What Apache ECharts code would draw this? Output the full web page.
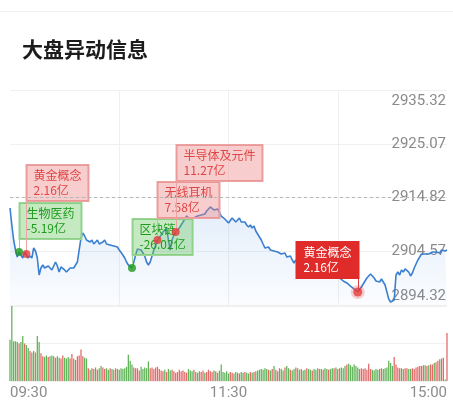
<!DOCTYPE html>
<html>
<head>
<meta charset="utf-8">
<title>大盘异动信息</title>
<script src="https://cdn.jsdelivr.net/npm/echarts@6/dist/echarts.min.js"></script>
<style>
  html, body { margin: 0; padding: 0; background: #fff; }
  #chart { width: 453px; height: 416px; }
</style>
</head>
<body>
<div id="chart"></div>
<script>
// 昨收
var PREV_CLOSE = 2914.82
var STEP = 10.25

// 每分钟价格 09:30-11:30, 13:01-15:00
var prices = [
  2912.82, 2909.58, 2906.72, 2904.81, 2903.47, 2904.43, 2904.24, 2903.28, 2904.43, 2904.05,
  2903.28, 2903.67, 2903.28, 2905.19, 2904.62, 2903.28, 2900.04, 2901.38, 2901.95, 2901.38,
  2901.00, 2901.76, 2901.38, 2901.00, 2901.76, 2902.52, 2901.76, 2900.61, 2901.57, 2901.95,
  2901.00, 2900.61, 2900.23, 2901.38, 2901.76, 2901.38, 2901.76, 2902.52, 2904.81, 2907.10,
  2908.05, 2907.48, 2906.72, 2907.10, 2906.33, 2906.72, 2905.95, 2906.33, 2906.72, 2905.95,
  2905.57, 2906.33, 2906.72, 2905.95, 2905.57, 2905.76, 2905.38, 2905.57, 2905.19, 2905.38,
  2904.81, 2904.43, 2903.86, 2903.28, 2902.52, 2901.95, 2901.57, 2901.38, 2902.52, 2903.86,
  2905.00, 2905.19, 2904.81, 2904.43, 2903.67, 2902.52, 2901.95, 2902.52, 2903.67, 2904.81,
  2905.76, 2906.72, 2907.10, 2907.67, 2908.24, 2907.86, 2909.00, 2906.72, 2904.81, 2906.72,
  2907.67, 2908.24, 2908.43, 2909.00, 2909.58, 2910.15, 2910.72, 2911.29, 2911.10, 2910.72,
  2910.53, 2910.91, 2910.72, 2911.29, 2910.91, 2911.48, 2911.86, 2911.67, 2912.25, 2912.44,
  2913.01, 2913.39, 2912.44, 2912.82, 2912.63, 2912.05, 2911.29, 2911.10, 2910.72, 2910.34,
  2909.96,
  2910.34, 2910.91, 2910.72, 2910.15, 2910.53, 2910.91, 2910.15, 2909.77, 2910.15, 2909.58,
  2909.19, 2909.58, 2909.00, 2909.39, 2908.43, 2907.86, 2907.29, 2906.72, 2905.95, 2905.19,
  2905.00, 2905.38, 2904.81, 2905.19, 2904.62, 2905.00, 2904.43, 2904.81, 2904.05, 2903.67,
  2904.24, 2903.47, 2903.28, 2903.67, 2902.90, 2902.33, 2902.90, 2902.52, 2902.14, 2902.52,
  2901.95, 2901.57, 2902.14, 2901.76, 2901.38, 2901.76, 2901.19, 2901.00, 2901.38, 2900.80,
  2900.61, 2901.00, 2900.42, 2900.23, 2900.61, 2900.04, 2899.85, 2900.23, 2899.66, 2899.85,
  2899.47, 2899.09, 2898.90, 2898.52, 2898.52, 2898.14, 2897.94, 2897.75, 2897.37, 2897.18,
  2896.80, 2897.18, 2897.75, 2898.33, 2898.90, 2899.47, 2899.85, 2900.23, 2900.04, 2899.47,
  2898.90, 2898.52, 2898.71, 2899.28, 2898.90, 2898.14, 2896.80, 2895.47, 2894.89, 2894.70,
  2895.28, 2900.04, 2900.61, 2900.04, 2901.00, 2900.61, 2901.19, 2901.38, 2900.61, 2899.85,
  2900.42, 2901.38, 2902.14, 2902.90, 2903.47, 2904.05, 2904.24, 2904.05, 2904.43, 2904.05,
  2904.24, 2904.43, 2904.05, 2904.43, 2904.62, 2904.24, 2904.81, 2905.00, 2904.62, 2904.81
]

// 每分钟成交量 (相对值)
var volumes = [
  55, 100, 53, 53, 52, 50, 52, 60, 50, 48,
  44, 40, 38, 40, 38, 60, 52, 37, 33, 32,
  34, 32, 33, 34, 33, 31, 33, 31, 30, 34,
  31, 30, 32, 30, 36, 30, 28, 33, 34, 42,
  33, 31, 30, 17, 15, 17, 16, 18, 15, 17,
  20, 18, 16, 17, 15, 17, 16, 15, 17, 16,
  15, 17, 16, 17, 19, 35, 27, 22, 18, 17,
  17, 14, 19, 16, 18, 17, 26, 17, 18, 16,
  18, 19, 16, 14, 13, 15, 12, 16, 14, 15,
  13, 11, 12, 15, 13, 14, 12, 11, 16, 14,
  13, 15, 12, 11, 13, 12, 14, 11, 12, 15,
  13, 12, 14, 13, 11, 14, 22, 12, 11, 13,
  10,
  12, 11, 10, 12, 11, 10, 12, 11, 12, 11,
  10, 12, 11, 12, 13, 14, 15, 16, 15, 17,
  16, 15, 14, 16, 20, 15, 13, 17, 16, 14,
  18, 20, 17, 15, 14, 16, 18, 17, 15, 16,
  14, 15, 17, 16, 15, 14, 16, 15, 17, 16,
  16, 15, 17, 16, 15, 16, 17, 17, 18, 16,
  17, 18, 17, 20, 22, 23, 21, 19, 22, 20,
  18, 16, 17, 16, 17, 15, 23, 16, 15, 14,
  16, 15, 16, 17, 16, 17, 18, 27, 24, 20,
  32, 22, 18, 17, 17, 16, 17, 17, 16, 16,
  17, 16, 18, 19, 20, 20, 21, 21, 20, 21,
  22, 22, 24, 25, 27, 29, 30, 31, 2, 64
]

// 异动事件
var eventTimes = ['09:35', '09:39', '10:37', '10:51', '11:01', '14:11']
var eventNames = ['生物医药', '黄金概念', '区块链', '无线耳机', '半导体及元件', '黄金概念']
var eventAmounts = ['-5.19亿', '2.16亿', '-26.02亿', '7.58亿', '11.27亿', '2.16亿']
var ACTIVE_EVENT = 5

// 标签框离点的高度(px), 只是样式
var EVENT_LIFT = [49, 89, 49, 58, 87, 14]

var times = []
function hhmm(m) {
  var h = Math.floor(m / 60)
  var mm = m % 60
  return (h < 10 ? '0' : '') + h + ':' + (mm < 10 ? '0' : '') + mm
}
for (var m = 0; m <= 120; m++) times.push(hhmm(9 * 60 + 30 + m))
for (var m = 1; m <= 120; m++) times.push(hhmm(13 * 60 + m))

var RED = '#e36a6a'
var GREEN = '#62b35a'
var BOX_FONT = '12px "Noto Sans CJK SC"'
var BOX_PAD = [3, 7, 3, 7]

var lineData = prices.map(function (p) { return +(p - PREV_CLOSE).toFixed(2) })
var volData = volumes.map(function (v, i) {
  var prev = i === 0 ? PREV_CLOSE : prices[i - 1]
  return {
    value: v,
    itemStyle: { color: prices[i] >= prev ? RED : GREEN }
  }
})
var eventData = eventTimes.map(function (t) {
  var idx = times.indexOf(t)
  return [idx, lineData[idx]]
})
var dotData = eventData.map(function (d, k) {
  var up = eventAmounts[k].charAt(0) !== '-'
  var item = { value: d, itemStyle: { color: up ? '#e63b3b' : '#1f9a1f' } }
  if (k === ACTIVE_EVENT) {
    item.symbolSize = 9
    item.itemStyle.borderColor = 'rgba(230,60,60,0.3)'
    item.itemStyle.borderWidth = 5
  }
  return item
})

var measureCtx = document.createElement('canvas').getContext('2d')
function boxWidth(lines) {
  measureCtx.font = BOX_FONT
  var w = 0
  lines.forEach(function (s) { w = Math.max(w, measureCtx.measureText(s).width) })
  return w + BOX_PAD[1] + BOX_PAD[3]
}

function renderEvent(params, api) {
  var k = params.dataIndex
  var p = api.coord([api.value(0), api.value(1)])
  var x = Math.round(p[0]) + 0.5
  var up = eventAmounts[k].charAt(0) !== '-'
  var active = k === ACTIVE_EVENT
  var edge = up ? '#eba3a3' : '#9cd596'
  var y = p[1] - EVENT_LIFT[k]
  var style = {
    text: eventNames[k] + '\n' + eventAmounts[k],
    font: BOX_FONT,
    lineHeight: 15,
    padding: BOX_PAD,
    fill: up ? '#e04545' : '#1f9a1f',
    backgroundColor: up ? 'rgba(238,130,130,0.4)' : 'rgba(110,200,100,0.4)',
    borderColor: edge,
    borderWidth: 1,
    align: 'left',
    verticalAlign: 'top'
  }
  var tx = x
  if (active) {
    // 当前选中的异动: 实心红框, 放在点的左上方
    style.fill = '#fff'
    style.backgroundColor = '#e02b2b'
    style.borderColor = '#e02b2b'
    style.verticalAlign = 'bottom'
    edge = '#e04040'
    tx = x - boxWidth([eventNames[k], eventAmounts[k]])
  }
  return {
    type: 'group',
    children: [
      {
        type: 'line',
        shape: { x1: x, y1: p[1], x2: x, y2: y },
        style: { stroke: edge, lineWidth: 1 }
      },
      {
        type: 'text',
        x: tx,
        y: y,
        style: style
      }
    ]
  }
}

var chart = echarts.init(document.getElementById('chart'))
chart.setOption({
  animation: false,
  title: {
    text: '大盘异动信息',
    left: 17,
    top: 34,
    textStyle: {
      fontSize: 21,
      fontWeight: 'bold',
      color: '#1c1c1c',
      fontFamily: 'Noto Sans CJK SC'
    }
  },
  graphic: [
    {
      type: 'line',
      shape: { x1: 0, y1: 11.5, x2: 453, y2: 11.5 },
      style: { stroke: '#f1f1f1', lineWidth: 1 }
    }
  ],
  grid: [
    { left: 10, right: 6, top: 90, height: 215 },
    { left: 10, right: 6, top: 306, height: 75 }
  ],
  xAxis: [
    {
      type: 'category',
      gridIndex: 0,
      data: times,
      boundaryGap: false,
      axisLine: { show: false },
      axisTick: { show: false },
      axisLabel: { show: false },
      splitLine: {
        show: true,
        interval: function (i) { return i === 60 || i === 120 || i === 180 },
        lineStyle: { color: '#f0f0f0' }
      }
    },
    {
      type: 'category',
      gridIndex: 1,
      data: times,
      boundaryGap: false,
      axisLine: { show: false },
      axisTick: { show: false },
      splitLine: { show: false },
      axisLabel: {
        interval: function (i) { return i === 0 || i === 120 || i === 240 },
        alignMinLabel: 'left',
        alignMaxLabel: 'right',
        color: '#8c8c8c',
        fontSize: 15,
        fontFamily: 'Roboto',
        margin: 5
      }
    }
  ],
  yAxis: [
    {
      type: 'value',
      gridIndex: 0,
      position: 'right',
      min: -2 * STEP,
      max: 2 * STEP,
      interval: STEP,
      axisLine: { show: false },
      axisTick: { show: false },
      splitLine: { lineStyle: { color: '#f0f0f0' } },
      axisLabel: {
        inside: true,
        margin: 1,
        formatter: function (v) {
          var s = (PREV_CLOSE + v).toFixed(2)
          if (Math.abs(v - 2 * STEP) < 1e-6) return '{top|' + s + '}'
          if (Math.abs(v + 2 * STEP) < 1e-6) return '{bot|' + s + '}'
          return '{mid|' + s + '}'
        },
        rich: {
          top: { color: '#8a8a8a', fontSize: 15, fontFamily: 'Roboto', padding: [22, 0, 0, 0] },
          mid: { color: '#8a8a8a', fontSize: 15, fontFamily: 'Roboto' },
          bot: { color: '#8a8a8a', fontSize: 15, fontFamily: 'Roboto', padding: [0, 0, 18, 0] }
        }
      }
    },
    {
      type: 'value',
      gridIndex: 1,
      min: 0,
      max: 100,
      interval: 50,
      axisLine: { show: false },
      axisTick: { show: false },
      axisLabel: { show: false },
      splitLine: { lineStyle: { color: '#f0f0f0' } }
    }
  ],
  series: [
    {
      name: '价格',
      type: 'line',
      xAxisIndex: 0,
      yAxisIndex: 0,
      data: lineData,
      showSymbol: false,
      smooth: false,
      z: 2,
      lineStyle: { color: '#3a7fd0', width: 1.6 },
      areaStyle: {
        origin: 'start',
        color: new echarts.graphic.LinearGradient(0, 0, 0, 1, [
          { offset: 0, color: 'rgba(70,140,225,0.22)' },
          { offset: 1, color: 'rgba(70,140,225,0.03)' }
        ])
      },
      markLine: {
        silent: true,
        symbol: ['none', 'none'],
        label: { show: false },
        lineStyle: { color: '#b5b5b5', type: [3, 3], width: 1 },
        data: [{ yAxis: 0 }]
      }
    },
    {
      name: '异动',
      type: 'custom',
      xAxisIndex: 0,
      yAxisIndex: 0,
      clip: false,
      z: 4,
      data: eventData,
      renderItem: renderEvent
    },
    {
      name: '异动点',
      type: 'scatter',
      xAxisIndex: 0,
      yAxisIndex: 0,
      symbolSize: 8,
      z: 5,
      data: dotData
    },
    {
      name: '成交量',
      type: 'bar',
      xAxisIndex: 1,
      yAxisIndex: 1,
      barWidth: '70%',
      data: volData
    }
  ]
})
</script>
</body>
</html>
